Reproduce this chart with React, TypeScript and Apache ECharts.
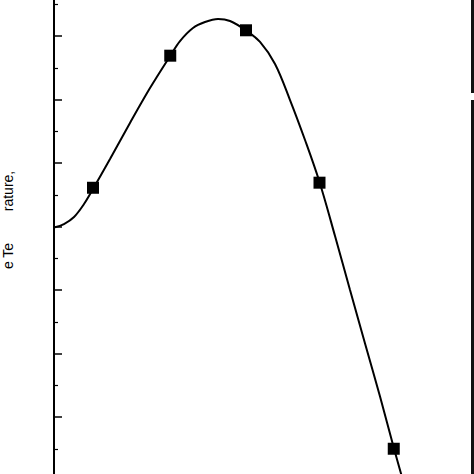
import React, { useEffect, useRef } from "react";
import * as echarts from "echarts";

// Fitted curve (x, y in axis units)
const curveX = [0, 1.33, 2.67, 4.0, 5.2, 7.47, 10.13, 12.8, 15.53, 16.8, 18.53, 20.13, 21.87, 23.47, 25.6, 27.47, 29.47, 31.47, 33.47, 35.4, 37.47, 39.47, 41.47, 43.47, 45.33, 46.53];
const curveY = [29.84, 30.39, 31.5, 33.54, 35.91, 40.63, 46.3, 51.8, 56.93, 59.2, 61.26, 62.2, 62.68, 62.36, 60.87, 59.06, 55.59, 49.92, 43.62, 37.01, 28.5, 20.0, 11.57, 3.23, -4.96, -10];

// Measured points (square markers)
const pointX = [5.2, 15.5, 25.6, 35.4, 45.3];
const pointY = [36.1, 56.9, 60.9, 36.9, -5.0];

// Axis label fragments (partly hidden in the original)
const labelParts = ["e Te", "rature,"];

export default function App() {
  const ref = useRef<HTMLDivElement>(null);
  useEffect(() => {
    if (!ref.current) return;
    const chart = echarts.init(ref.current, null, { renderer: "svg" });
    const off = 40;
    chart.setOption({
      animation: false,
      backgroundColor: "#ffffff",
      grid: { left: 54, right: 1.5, top: 12.5, bottom: 33.5 },
      xAxis: { type: "value", min: 0, max: 55.8, show: false },
      yAxis: [
        {
          type: "value",
          min: -10,
          max: 70,
          interval: 10,
          position: "left",
          axisLine: { show: true, lineStyle: { color: "#000", width: 2 } },
          axisTick: { show: true, inside: true, length: 8, lineStyle: { color: "#000", width: 1.5 } },
          minorTick: { show: true, splitNumber: 2, length: 4, lineStyle: { color: "#000", width: 1.2 } },
          axisLabel: { show: false },
          splitLine: { show: false },
        },
        {
          type: "value",
          min: -10,
          max: 70,
          interval: 10,
          position: "right",
          axisLine: { show: true, lineStyle: { color: "#111", width: 3 } },
          axisTick: { show: false },
          axisLabel: { show: false },
          splitLine: { show: false },
        },
      ],
      series: [
        {
          type: "line",
          data: curveX.map((x, i) => [x, curveY[i]]),
          smooth: 0.35,
          symbol: "none",
          lineStyle: { color: "#000", width: 2 },
          z: 2,
        },
        {
          type: "scatter",
          data: pointX.map((x, i) => [x, pointY[i]]),
          symbol: "rect",
          symbolSize: 12,
          itemStyle: { color: "#000", opacity: 1 },
          z: 3,
        },
      ],
      graphic: [
        { type: "rect", shape: { x: 468, y: 93 + off, width: 8, height: 7 }, style: { fill: "#fff" }, z: 10 },
        {
          type: "text",
          x: 8,
          y: 256 + off,
          rotation: Math.PI / 2,
          style: { text: labelParts[0], font: "14px 'Liberation Sans', Arial, sans-serif", fill: "#000", align: "center", verticalAlign: "middle" },
        },
        {
          type: "text",
          x: 8,
          y: 191 + off,
          rotation: Math.PI / 2,
          style: { text: labelParts[1], font: "14px 'Liberation Sans', Arial, sans-serif", fill: "#000", align: "center", verticalAlign: "middle" },
        },
      ],
    });
    return () => chart.dispose();
  }, []);
  return (
    <div
      ref={ref}
      style={{ position: "fixed", left: 0, top: -40, width: 474, height: 554, background: "#fff" }}
    />
  );
}
